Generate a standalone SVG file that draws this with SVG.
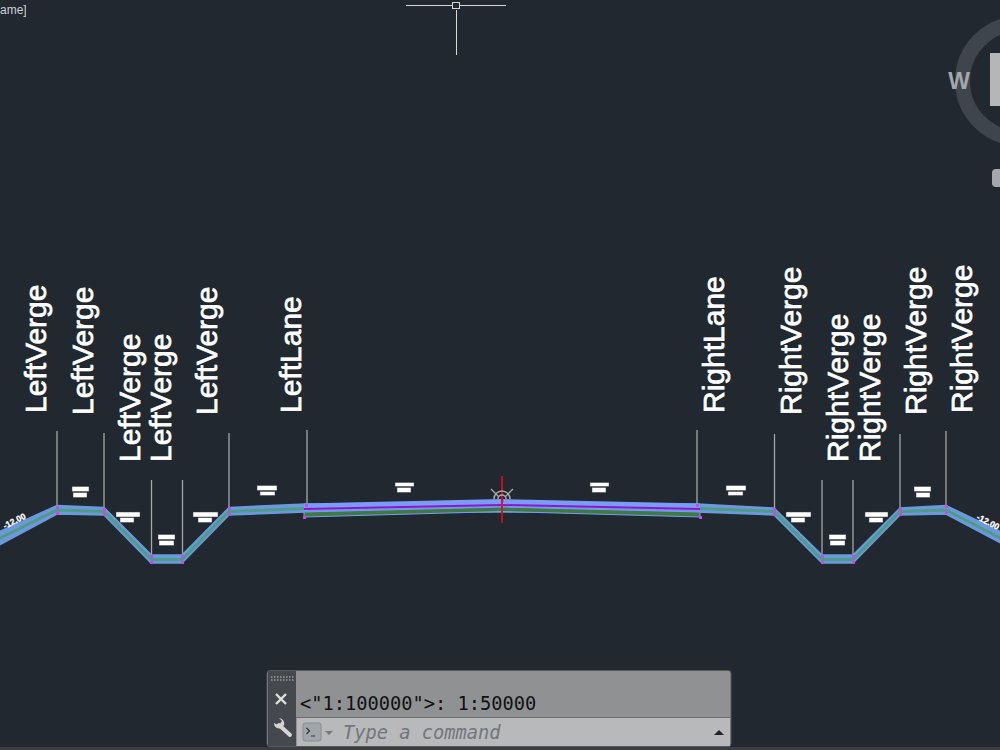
<svg xmlns="http://www.w3.org/2000/svg" width="1000" height="750" viewBox="0 0 1000 750">
<style>
.lbl{font:30px "Liberation Sans",Arial,sans-serif;fill:#fff;stroke:#fff;stroke-width:.7}
.gl{stroke:#a4a6a8;stroke-width:1.3;fill:none}
.blue{fill:#6c98dc;stroke:#6c98dc;stroke-width:1.500}
.green{stroke:#4f9a88;stroke-width:3;fill:none}
.v{fill:#c848e8}
.w{fill:#fff;stroke:#3a3f46;stroke-width:.5}
.slope{font:bold 8.500px "Liberation Sans",Arial,sans-serif;fill:#fff;stroke:#fff;stroke-width:.3}
</style>
<rect width="1000" height="750" fill="#212830"/>
<text x="0" y="14" font-family="Liberation Sans,sans-serif" font-size="12" fill="#d0d2d4">ame]</text>
<g id="crosshair" stroke="#d8d8d8" stroke-width="1" fill="none"><path d="M406 5.500H452M460 5.500H506M456.500 10V55"/><rect x="452.500" y="2.500" width="7" height="6"/></g>
<g id="viewcube">
<circle cx="1020" cy="81" r="57.500" fill="none" stroke="#3e454d" stroke-width="15"/>
<rect x="990" y="53" width="12" height="53" fill="#b4b6b8"/>
<text x="959" y="89" text-anchor="middle" font-family="Liberation Sans,sans-serif" font-weight="bold" font-size="23" fill="#a4a7ab">W</text>
<rect x="992" y="169" width="14" height="18" rx="4" fill="#a4a7ab"/>
</g>
<g id="connectors">
<path class="gl" d="M57 431V507M104 433V509M151.500 480V556M182.500 480V556M229 433V509M307 430V506M697 430V506M774.500 434V510M822 480V556M853 480V556M900 434V510M946 431V507"/>
</g>
<g id="road">
<path class="blue" d="M-10 536L57 505.500L104 507.500L151.500 555L182 555L229 507.500L306 504L697 504L774 508L822 555L853 555L900 508L946 505.500L1010 536V548L946 514L900 515L853 563L822 563L774 515L697 512L306 512L229 515L182 563L151 563L104 515L57 514L-10 550Z"/>
<path class="green" d="M-10 543L57 510L104 511.500L151.500 559.500L182 559.500L229 511.500L306 508.500M697 508.500L774 511.500L822 559.500L853 559.500L900 511.500L946 510L1010 543"/>
<path d="M304 503.500L502 499L700 503.500V510.500L502 506.500L304 510.500Z" fill="#7a9cf8"/>
<path d="M304 509L502 505L700 509" fill="none" stroke="#8e18c8" stroke-width="2"/>
<path d="M304 512L502 507L700 512V517L502 511.500L304 517Z" fill="#3f7a46" stroke="#7a9cf0" stroke-width="1"/>
<path d="M502 499.500V512" stroke="#7a9cf0" stroke-width="2"/>
</g>
<g id="vertices">
<path class="v" d="M56 506h3v3h-3zM56 512h3v3h-3zM103 508h3v3h-3zM103 513h3v3h-3zM150 555h3v3h-3zM150 561h3v3h-3zM181 555h3v3h-3zM181 561h3v3h-3zM228 507h3v3h-3zM228 513h3v3h-3zM305 504h3v3h-3zM303 516h3v3h-3zM501 499h3v3h-3zM696 504h3v3h-3zM699 516h3v3h-3zM773 508h3v3h-3zM773 513h3v3h-3zM821 555h3v3h-3zM821 561h3v3h-3zM852 555h3v3h-3zM852 561h3v3h-3zM899 508h3v3h-3zM899 513h3v3h-3zM945 505h3v3h-3zM945 511h3v3h-3z"/>
</g>
<g id="centre">
<path d="M502 476V523" stroke="#c4121c" stroke-width="1.800"/>
<path d="M491 489L499 497M513 489L505 497" stroke="#a8a8a8" stroke-width="1.300"/>
<path d="M494 499a8 8 0 0 1 16 0M498 499a4 4 0 0 1 8 0" fill="none" stroke="#a8a8a8" stroke-width="1.500"/>
</g>
<g id="glyphs">
<path class="w" d="M72 486.500h17v5h-17zM73 492.500h14v5h-14zM116 512h24v5h-24zM120 517.500h14v5h-14zM158 534.500h17v5h-17zM159 540.500h15v5h-15zM193 512h25v5h-25zM198 517.500h14v5h-14zM257 485.500h20v5h-20zM260 491.500h15v4h-15zM395 482.500h19v4h-19zM397 487.500h14v5h-14zM590 482.500h19v4h-19zM592 487.500h14v5h-14zM726 485.500h20v5h-20zM728 491.500h15v4h-15zM786 512h25v5h-25zM791 517.500h14v5h-14zM829 534.500h17v5h-17zM830 540.500h15v5h-15zM865 512h23v5h-23zM869 517.500h14v5h-14zM914 486.500h17v5h-17zM916 492.500h14v5h-14z"/>
</g>
<g id="labels">
<text class="lbl" transform="translate(46 413) rotate(-90)">LeftVerge</text>
<text class="lbl" transform="translate(93 415) rotate(-90)">LeftVerge</text>
<text class="lbl" transform="translate(140 462) rotate(-90)">LeftVerge</text>
<text class="lbl" transform="translate(171 462) rotate(-90)">LeftVerge</text>
<text class="lbl" transform="translate(217 415) rotate(-90)">LeftVerge</text>
<text class="lbl" transform="translate(301 413) rotate(-90)">LeftLane</text>
<text class="lbl" transform="translate(724 413) rotate(-90)">RightLane</text>
<text class="lbl" transform="translate(801 415) rotate(-90)">RightVerge</text>
<text class="lbl" transform="translate(848 462) rotate(-90)">RightVerge</text>
<text class="lbl" transform="translate(880 462) rotate(-90)">RightVerge</text>
<text class="lbl" transform="translate(926 415) rotate(-90)">RightVerge</text>
<text class="lbl" transform="translate(972 413) rotate(-90)">RightVerge</text>
<text class="slope" transform="translate(5 529) rotate(-27)">-12.00</text>
<text class="slope" transform="translate(976 519) rotate(27)">-12.00</text>
</g>
<g id="command">
<rect x="0" y="747" width="1000" height="3" fill="#3a3d41"/>
<rect x="267" y="670.500" width="464" height="76" rx="3" fill="#8f9193" stroke="#565a5e"/>
<rect x="268" y="671" width="28" height="75" fill="#45494d"/>
<path d="M271 677h23M271 680h23" stroke="#999" stroke-width="1.500" stroke-dasharray="1.500 1.500"/>
<path d="M276 694l10 10M286 694l-10 10" stroke="#e0e0e0" stroke-width="2.400"/>
<path d="M279 725l11 10" stroke="#d4d4d4" stroke-width="4" stroke-linecap="round"/>
<path d="M274 723a5.500 5.500 0 0 0 8 5l2-3a5.500 5.500 0 0 0-5-7l3 3-3 4-3-1z" fill="#d4d4d4"/>
<rect x="297" y="718" width="433" height="28" fill="#b7b9bb"/>
<path d="M296 717.500H730" stroke="#6a6c6e"/>
<rect x="303" y="723" width="18" height="18" rx="2" fill="#a2a6aa" stroke="#8a8e92"/>
<path d="M306.500 728l3 3-3 3M311 736h4" fill="none" stroke="#333" stroke-width="1.200"/>
<path d="M325 731h8l-4 4z" fill="#777"/>
<path d="M714 735h10l-5-5z" fill="#222"/>
<text x="300" y="710" font-family="DejaVu Sans Mono,monospace" font-size="18.700" fill="#111">&lt;"1:100000"&gt;: 1:50000</text>
<text x="343" y="739" font-family="DejaVu Sans Mono,monospace" font-style="italic" font-size="18.700" fill="#73767a">Type a command</text>
</g>
</svg>
